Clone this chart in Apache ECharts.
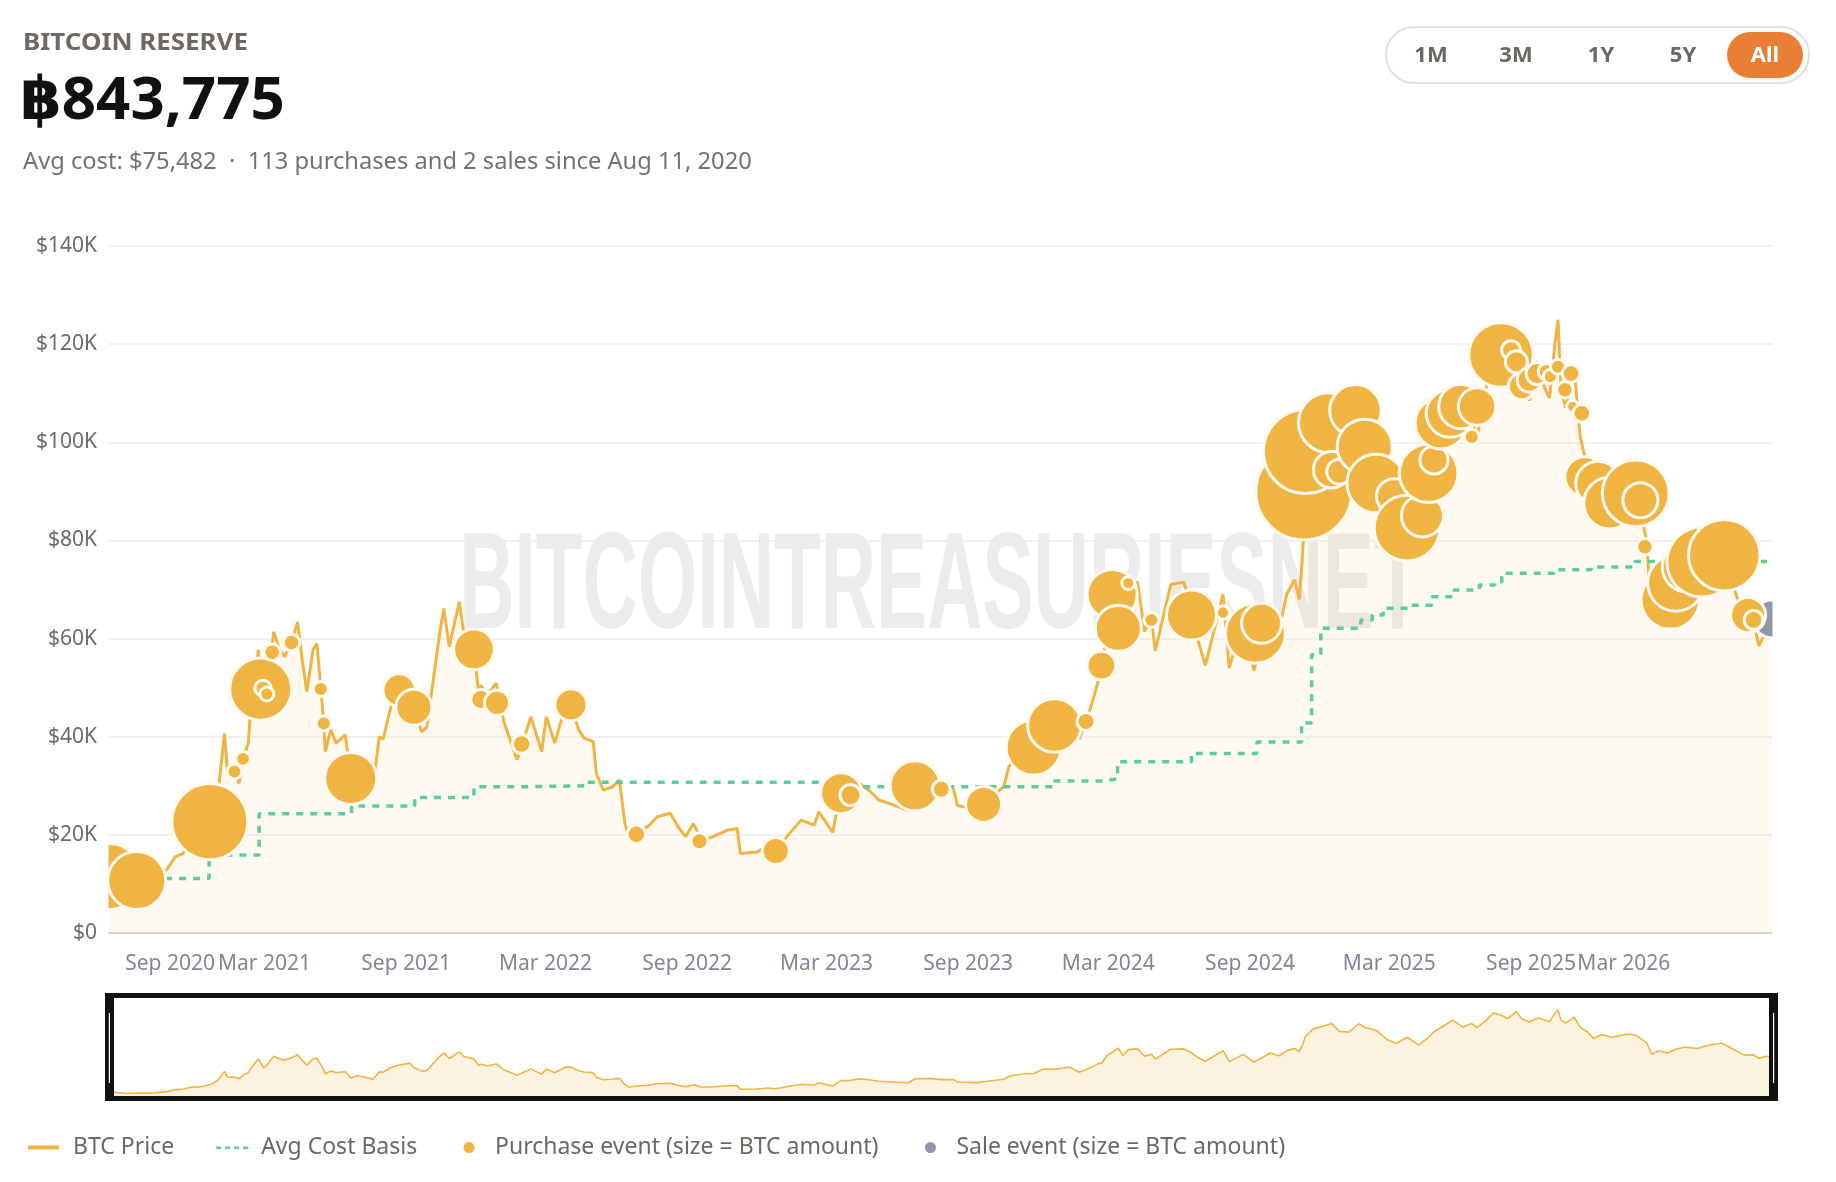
<!DOCTYPE html>
<html>
<head>
<meta charset="utf-8">
<script src="https://cdn.jsdelivr.net/npm/echarts@6/dist/echarts.min.js"></script>
<style>
  html, body { margin: 0; background: #fff; }
  #chart { width: 1836px; height: 1182px; }
</style>
</head>
<body>
<div id="chart"></div>
<script>
// header texts
const headerLabel = 'BITCOIN RESERVE'
const reserveText = '\u0E3F843,775'
const subText = 'Avg cost: $75,482  \u00B7  113 purchases and 2 sales since Aug 11, 2020'
const rangeButtons = ['1M', '3M', '1Y', '5Y', 'All']
const watermarkText = 'BITCOINTREASURIESNET'

// x axis range and label dates
const xMin = '2020-08-11'
const xMax = '2026-07-11'
const xLabelDates = ['2020-09-01', '2021-03-01', '2021-09-01', '2022-03-01', '2022-09-01', '2023-03-01',
  '2023-09-01', '2024-03-01', '2024-09-01', '2025-03-01', '2025-09-01', '2026-03-01']
const monthNames = ['Jan', 'Feb', 'Mar', 'Apr', 'May', 'Jun', 'Jul', 'Aug', 'Sep', 'Oct', 'Nov', 'Dec']

// y axis in $K
const yMin = 0, yMax = 140, yStep = 20

// BTC price, $K
const btcPrice = [
  ['2020-08-11', 11.6], ['2020-08-18', 12.0], ['2020-08-25', 11.4], ['2020-09-03', 10.2], ['2020-09-16', 10.9],
  ['2020-09-30', 10.8], ['2020-10-10', 11.3], ['2020-10-25', 12.9], ['2020-11-05', 15.5], ['2020-11-15', 16.2],
  ['2020-11-25', 19.0], ['2020-12-05', 19.2], ['2020-12-16', 21.3], ['2020-12-22', 23.0], ['2020-12-31', 29.0],
  ['2021-01-08', 40.7], ['2021-01-12', 32.6], ['2021-01-21', 32.9], ['2021-01-27', 30.5], ['2021-02-01', 35.5],
  ['2021-02-08', 38.7], ['2021-02-10', 43.4], ['2021-02-21', 57.7], ['2021-02-28', 45.5], ['2021-03-04', 48.7],
  ['2021-03-13', 61.4], ['2021-03-20', 58.0], ['2021-03-27', 56.3], ['2021-04-05', 59.2], ['2021-04-13', 63.4],
  ['2021-04-19', 55.6], ['2021-04-25', 49.2], ['2021-05-03', 57.7], ['2021-05-08', 59.0], ['2021-05-12', 52.0],
  ['2021-05-17', 42.7], ['2021-05-19', 37.0], ['2021-05-26', 41.4], ['2021-06-02', 38.7], ['2021-06-14', 40.4],
  ['2021-06-21', 31.5], ['2021-06-30', 35.0], ['2021-07-08', 33.0], ['2021-07-20', 30.0], ['2021-07-28', 40.0],
  ['2021-08-02', 39.5], ['2021-08-12', 46.0], ['2021-08-23', 49.5], ['2021-09-06', 52.0], ['2021-09-11', 46.0],
  ['2021-09-21', 41.0], ['2021-09-28', 42.0], ['2021-10-04', 49.0], ['2021-10-15', 61.7], ['2021-10-20', 66.1],
  ['2021-10-27', 58.3], ['2021-11-09', 67.5], ['2021-11-15', 61.0], ['2021-11-28', 57.8], ['2021-12-04', 49.0],
  ['2021-12-07', 50.5], ['2021-12-15', 48.5], ['2021-12-27', 50.9], ['2022-01-06', 43.0], ['2022-01-23', 35.3],
  ['2022-01-29', 38.0], ['2022-02-10', 44.1], ['2022-02-24', 36.9], ['2022-03-02', 44.1], ['2022-03-13', 38.7],
  ['2022-03-28', 47.0], ['2022-04-03', 46.5], ['2022-04-13', 41.4], ['2022-04-20', 39.7], ['2022-05-02', 39.0],
  ['2022-05-06', 32.5], ['2022-05-15', 29.1], ['2022-05-27', 29.8], ['2022-06-05', 31.2], ['2022-06-12', 22.4],
  ['2022-06-18', 19.2], ['2022-06-27', 20.5], ['2022-07-12', 21.7], ['2022-07-24', 23.7], ['2022-08-10', 24.4],
  ['2022-08-20', 21.7], ['2022-08-30', 19.6], ['2022-09-09', 22.3], ['2022-09-17', 19.8], ['2022-09-21', 18.9],
  ['2022-10-04', 19.6], ['2022-10-24', 21.0], ['2022-11-05', 21.3], ['2022-11-09', 16.2], ['2022-12-01', 16.5],
  ['2022-12-14', 17.8], ['2022-12-25', 16.8], ['2023-01-12', 20.3], ['2023-01-27', 23.0], ['2023-02-13', 22.0],
  ['2023-02-19', 24.7], ['2023-03-09', 20.5], ['2023-03-14', 24.5], ['2023-03-20', 28.0], ['2023-04-01', 28.3],
  ['2023-04-13', 30.4], ['2023-04-25', 29.1], ['2023-05-08', 27.1], ['2023-05-21', 26.4], ['2023-06-15', 25.0],
  ['2023-06-24', 30.5], ['2023-07-13', 31.0], ['2023-07-28', 29.3], ['2023-08-13', 29.3], ['2023-08-18', 26.0],
  ['2023-09-11', 25.2], ['2023-09-21', 26.5], ['2023-10-17', 29.8], ['2023-10-24', 34.0], ['2023-11-10', 37.0],
  ['2023-11-25', 37.8], ['2023-12-08', 44.0], ['2023-12-22', 43.5], ['2024-01-11', 46.5], ['2024-01-23', 39.5],
  ['2024-02-01', 43.0], ['2024-02-10', 47.5], ['2024-02-18', 52.0], ['2024-02-21', 51.5], ['2024-02-28', 62.0],
  ['2024-03-06', 67.0], ['2024-03-14', 72.5], ['2024-03-20', 62.5], ['2024-03-27', 70.5], ['2024-04-08', 71.5],
  ['2024-04-17', 61.5], ['2024-04-26', 64.0], ['2024-05-01', 57.5], ['2024-05-21', 71.0], ['2024-06-07', 71.5],
  ['2024-06-17', 66.5], ['2024-06-24', 60.5], ['2024-07-05', 54.5], ['2024-07-28', 69.0], ['2024-08-05', 54.0],
  ['2024-08-23', 64.0], ['2024-09-06', 53.5], ['2024-09-16', 59.0], ['2024-09-27', 65.8], ['2024-10-09', 62.0],
  ['2024-10-19', 69.2], ['2024-10-29', 72.0], ['2024-11-04', 68.0], ['2024-11-08', 76.5], ['2024-11-12', 88.5],
  ['2024-11-22', 99.0], ['2024-12-05', 102.5], ['2024-12-16', 106.5], ['2024-12-26', 95.5], ['2025-01-08', 94.5],
  ['2025-01-20', 106.0], ['2025-01-28', 101.0], ['2025-02-12', 97.0], ['2025-02-26', 84.5], ['2025-03-10', 79.0],
  ['2025-03-24', 87.5], ['2025-04-08', 77.0], ['2025-04-21', 87.5], ['2025-04-28', 95.0], ['2025-05-12', 104.0],
  ['2025-05-22', 111.0], ['2025-06-05', 101.5], ['2025-06-16', 106.5], ['2025-06-22', 100.5], ['2025-07-03', 109.0],
  ['2025-07-14', 121.0], ['2025-07-24', 118.0], ['2025-08-02', 113.0], ['2025-08-13', 123.0], ['2025-08-20', 113.0],
  ['2025-08-30', 108.5], ['2025-09-10', 114.0], ['2025-09-25', 109.0], ['2025-10-02', 120.0], ['2025-10-06', 125.0],
  ['2025-10-10', 111.0], ['2025-10-16', 107.0], ['2025-10-27', 115.0], ['2025-11-04', 101.0], ['2025-11-13', 95.0],
  ['2025-11-21', 86.0], ['2025-12-02', 91.0], ['2025-12-15', 87.5], ['2026-01-05', 92.0], ['2026-01-15', 90.5],
  ['2026-01-29', 80.0], ['2026-02-05', 64.0], ['2026-02-14', 69.0], ['2026-02-25', 66.0], ['2026-03-08', 71.0],
  ['2026-03-20', 74.0], ['2026-04-05', 72.0], ['2026-04-20', 76.5], ['2026-05-07', 79.5], ['2026-05-20', 72.0],
  ['2026-06-05', 63.0], ['2026-06-17', 63.5], ['2026-06-24', 58.5], ['2026-07-03', 61.5], ['2026-07-11', 60.0]
]

// average cost basis, $K (changes at purchase dates)
const avgCost = [
  ['2020-08-11', 11.1], ['2020-12-19', 15.9], ['2021-02-22', 24.3], ['2021-06-22', 25.9], ['2021-09-12', 27.6],
  ['2021-11-28', 29.8], ['2022-01-31', 30.0], ['2022-04-21', 30.7], ['2023-04-05', 29.8], ['2023-12-20', 31.0],
  ['2024-02-23', 31.4], ['2024-03-13', 34.9], ['2024-06-17', 36.6], ['2024-09-10', 38.9], ['2024-11-07', 42.8],
  ['2024-11-20', 56.7], ['2024-12-02', 62.1], ['2025-01-23', 63.8], ['2025-02-07', 64.8], ['2025-02-21', 66.2],
  ['2025-03-27', 66.8], ['2025-04-25', 68.5], ['2025-05-24', 69.9], ['2025-06-26', 70.9], ['2025-07-16', 71.6],
  ['2025-07-25', 73.3], ['2025-10-01', 74.0], ['2025-11-18', 74.6], ['2026-01-14', 75.7], ['2026-07-11', 75.5]
]

// purchases: date, price $K, BTC bought
const purchases = [
  ['2020-08-11', 11.5, 25900], ['2020-09-16', 10.7, 20000], ['2020-12-20', 22.7, 34400], ['2021-01-21', 32.9, 1300],
  ['2021-02-01', 35.5, 1300], ['2021-02-24', 49.7, 22900], ['2021-02-27', 49.9, 1520], ['2021-03-04', 48.7, 1170],
  ['2021-03-11', 57.2, 1640], ['2021-04-05', 59.2, 1640], ['2021-05-13', 49.7, 1340], ['2021-05-17', 42.7, 1340],
  ['2021-06-21', 31.5, 16100], ['2021-08-23', 49.5, 6320], ['2021-09-11', 46.0, 7710], ['2021-11-28', 57.8, 9850],
  ['2021-12-07', 47.6, 2380], ['2021-12-28', 46.9, 3720], ['2022-01-29', 38.5, 2040], ['2022-04-03', 46.5, 6090],
  ['2022-06-27', 20.1, 2040], ['2022-09-17', 18.7, 1720], ['2022-12-25', 16.7, 4340], ['2023-03-20', 28.5, 10000],
  ['2023-04-01', 28.1, 2620], ['2023-06-24', 30.0, 14870], ['2023-07-28', 29.3, 1930], ['2023-09-21', 26.2, 7710],
  ['2023-11-25', 37.8, 18000], ['2023-12-22', 42.3, 17090], ['2024-02-01', 43.1, 1930], ['2024-02-21', 54.5, 4900],
  ['2024-03-06', 69.0, 14870], ['2024-03-14', 62.1, 12590], ['2024-03-27', 71.3, 1000], ['2024-04-26', 63.8, 1340],
  ['2024-06-17', 64.8, 14870], ['2024-07-28', 65.3, 1070], ['2024-09-08', 61.1, 21420], ['2024-09-16', 63.1, 9520],
  ['2024-11-10', 89.9, 54800], ['2024-11-12', 98.1, 42000], ['2024-12-12', 104.0, 21400], ['2024-12-16', 94.4, 7900],
  ['2024-12-26', 94.0, 3700], ['2025-01-16', 106.5, 15800], ['2025-01-28', 99.1, 18000], ['2025-02-12', 91.6, 20400],
  ['2025-03-07', 89.0, 7300], ['2025-03-24', 82.5, 25600], ['2025-04-13', 85.0, 10500], ['2025-04-21', 93.7, 20400],
  ['2025-04-28', 96.4, 4700], ['2025-05-07', 103.9, 15800], ['2025-05-19', 105.9, 13700], ['2025-06-02', 107.3, 11800],
  ['2025-06-16', 101.1, 1350], ['2025-06-23', 107.3, 8350], ['2025-07-24', 117.8, 24700], ['2025-08-06', 118.8, 2100],
  ['2025-08-13', 116.4, 2900], ['2025-08-20', 111.4, 4300], ['2025-08-30', 112.7, 3600], ['2025-09-09', 114.0, 2900],
  ['2025-09-21', 114.4, 1600], ['2025-09-26', 113.4, 1170], ['2025-10-06', 115.4, 1350], ['2025-10-15', 110.7, 1600],
  ['2025-10-23', 114.0, 1850], ['2025-10-25', 107.3, 850], ['2025-11-06', 105.9, 1850], ['2025-11-10', 93.0, 9500],
  ['2025-11-27', 91.6, 11800], ['2025-12-12', 87.6, 15800], ['2026-01-15', 89.6, 26500], ['2026-01-21', 88.2, 7300],
  ['2026-01-27', 78.7, 1600], ['2026-03-01', 67.9, 20400], ['2026-03-08', 71.3, 18700], ['2026-03-23', 74.6, 14900],
  ['2026-04-11', 75.6, 29200], ['2026-05-10', 77.0, 30400], ['2026-06-10', 64.8, 7300], ['2026-06-17', 63.8, 2100]
]

// sales: date, price $K, BTC sold
const sales = [
  ['2026-07-11', 64.0, 8600]
]

const seriesNames = ['BTC Price', 'Avg Cost Basis', 'Purchase event (size = BTC amount)', 'Sale event (size = BTC amount)']

const FONT = '"Noto Sans", "DejaVu Sans", sans-serif'
const ORANGE = '#F0B443'
const GREEN = '#5CCE97'
const ts = (d) => echarts.time.parse(d).getTime()
const withTs = (rows) => rows.map((r) => [ts(r[0])].concat(r.slice(1)))
const bubbleSize = (v) => Math.max(10, 0.41 * Math.sqrt(v[2]))

// legend icons (tiny corner dots fix the icon box so nothing is stretched)
const boxPad = (w, h) => ` M0,0h0.01v0.01z M${w - 0.01},${h - 0.01}h0.01v0.01z`
const lineIcon = 'path://M0,4.5h31v4h-31z' + boxPad(40, 13)
const dashIcon = 'path://M0,5.5h5v2.5h-5z M9,5.5h5v2.5h-5z M18,5.5h5v2.5h-5z M27,5.5h5v2.5h-5z' + boxPad(40, 13)
const dotIcon = 'path://M3.5,6.5a5.5,5.5 0 1,0 11,0a5.5,5.5 0 1,0 -11,0z' + boxPad(30, 13)

const chart = echarts.init(document.getElementById('chart'), null, { renderer: 'canvas' })

const btnX = [1431, 1516, 1601, 1683, 1765]
const buttonGraphics = [
  { type: 'rect', shape: { x: 1386, y: 27, width: 423, height: 56, r: 28 },
    style: { fill: '#fff', stroke: '#e3e1de', lineWidth: 2 }, z: 10 },
  { type: 'rect', shape: { x: 1727, y: 32, width: 76, height: 46, r: 23 },
    style: { fill: '#E97F36' }, z: 11 },
  ...rangeButtons.map((t, i) => ({
    type: 'text', x: btnX[i], y: 56, z: 12,
    style: { text: t, font: 'bold 22px ' + FONT, fill: t === 'All' ? '#fff' : '#6e6863',
      align: 'center', verticalAlign: 'middle' }
  }))
]

// navigator frame + handles, and white strips that clip bubbles at the plot edges
const frameGraphics = [
  { type: 'rect', shape: { x: 107.5, y: 995.5, width: 1667, height: 103 }, z: 100,
    style: { fill: 'none', stroke: '#111', lineWidth: 5 } },
  { type: 'rect', shape: { x: 105, y: 993, width: 9, height: 108 }, z: 100, style: { fill: '#111' } },
  { type: 'rect', shape: { x: 1769, y: 993, width: 9, height: 108 }, z: 100, style: { fill: '#111' } },
  { type: 'rect', shape: { x: 108.8, y: 1013, width: 1.2, height: 70 }, z: 101, style: { fill: '#fff' } },
  { type: 'rect', shape: { x: 1773, y: 1013, width: 1.2, height: 70 }, z: 101, style: { fill: '#fff' } },
  { type: 'rect', shape: { x: 0, y: 200, width: 108.5, height: 732 }, z: 6, style: { fill: '#fff' } },
  { type: 'rect', shape: { x: 1772.5, y: 200, width: 64, height: 732 }, z: 6, style: { fill: '#fff' } }
]

chart.setOption({
  backgroundColor: '#fff',
  animation: false,
  textStyle: { fontFamily: FONT },
  graphic: [
    { type: 'text', x: 23, y: 43, scaleX: 1.08, z: 10,
      style: { text: headerLabel, font: 'bold 24px ' + FONT, fill: '#6e6863', verticalAlign: 'middle' } },
    { type: 'text', x: 20, y: 102, z: 10,
      style: { text: reserveText, font: 'bold 60px ' + FONT, fill: '#111', verticalAlign: 'middle' } },
    { type: 'text', x: 23, y: 162, z: 10,
      style: { text: subText, font: '23.7px ' + FONT, fill: '#77716c', verticalAlign: 'middle' } },
    ...buttonGraphics,
    { type: 'text', x: 940, y: 590, scaleX: 0.555, z: 0,
      style: { text: watermarkText, font: 'bold 138px "Liberation Sans Narrow", "Liberation Sans", sans-serif',
        fill: '#ececec', align: 'center', verticalAlign: 'middle' } },
    ...frameGraphics
  ],
  grid: [
    { left: 109, right: 64, top: 246, bottom: 249 },
    { left: 109, right: 64, top: 999, bottom: 81 }
  ],
  legend: [
    { left: 23, top: 1131, itemGap: 42, itemWidth: 40, itemHeight: 13, selectedMode: false,
      textStyle: { fontSize: 23, color: '#6e6863', fontFamily: FONT },
      itemStyle: { borderWidth: 0 },
      data: [{ name: seriesNames[0], icon: lineIcon }, { name: seriesNames[1], icon: dashIcon }] },
    { left: 455, top: 1131, itemGap: 43, itemWidth: 30, itemHeight: 13, selectedMode: false,
      textStyle: { fontSize: 23, color: '#6e6863', fontFamily: FONT },
      itemStyle: { borderWidth: 0 },
      data: [{ name: seriesNames[2], icon: dotIcon }, { name: seriesNames[3], icon: dotIcon }] }
  ],
  xAxis: [
    {
      type: 'value', gridIndex: 0,
      min: ts(xMin), max: ts(xMax),
      axisLine: { lineStyle: { color: '#d5d6dc', width: 2 } },
      axisTick: { show: false },
      splitLine: { show: false },
      axisLabel: {
        customValues: xLabelDates.map(ts),
        formatter: (v) => { const d = new Date(v); return monthNames[d.getMonth()] + ' ' + d.getFullYear() },
        color: '#7f8797', fontSize: 21, margin: 21,
        showMinLabel: true, showMaxLabel: true,
        alignMinLabel: 'left', alignMaxLabel: 'right', hideOverlap: false
      }
    },
    { type: 'value', gridIndex: 1, min: ts(xMin), max: ts(xMax), show: false }
  ],
  yAxis: [
    { type: 'value', gridIndex: 0, min: yMin, max: yMax, interval: yStep,
      axisLine: { show: false }, axisTick: { show: false }, axisLabel: { show: false },
      splitLine: { lineStyle: { color: '#ececf1', width: 1.5 } } },
    { type: 'value', gridIndex: 0, position: 'left', z: 10, min: yMin, max: yMax, interval: yStep,
      axisLine: { show: false }, axisTick: { show: false }, splitLine: { show: false },
      axisLabel: { color: '#6f6a66', fontSize: 21, margin: 12, formatter: (v) => v === 0 ? '$0' : '$' + v + 'K' } },
    { type: 'value', gridIndex: 1, min: yMin, max: yMax, show: false }
  ],
  series: [
    { name: seriesNames[0], type: 'line', data: withTs(btcPrice), symbol: 'none', z: 2,
      itemStyle: { color: ORANGE },
      lineStyle: { color: ORANGE, width: 3 },
      areaStyle: { color: 'rgba(240,180,67,0.07)', opacity: 1 } },
    { name: seriesNames[1], type: 'line', step: 'end', data: withTs(avgCost), symbol: 'none', z: 3,
      itemStyle: { color: GREEN },
      lineStyle: { color: GREEN, width: 3.5, type: [7, 7] } },
    { name: seriesNames[3], type: 'scatter', data: withTs(sales), symbolSize: bubbleSize, z: 4,
      itemStyle: { color: '#8E96A7', borderColor: '#FFF9F0', borderWidth: 3, opacity: 1 } },
    { name: seriesNames[2], type: 'scatter', data: withTs(purchases), symbolSize: bubbleSize, z: 5,
      itemStyle: { color: ORANGE, borderColor: '#FFF9F0', borderWidth: 3, opacity: 1 } },
    { name: 'navigator', type: 'line', xAxisIndex: 1, yAxisIndex: 2, data: withTs(btcPrice), symbol: 'none',
      lineStyle: { color: ORANGE, width: 1.6 },
      areaStyle: { color: '#FCF2E0', opacity: 1 } }
  ]
})
</script>
</body>
</html>
